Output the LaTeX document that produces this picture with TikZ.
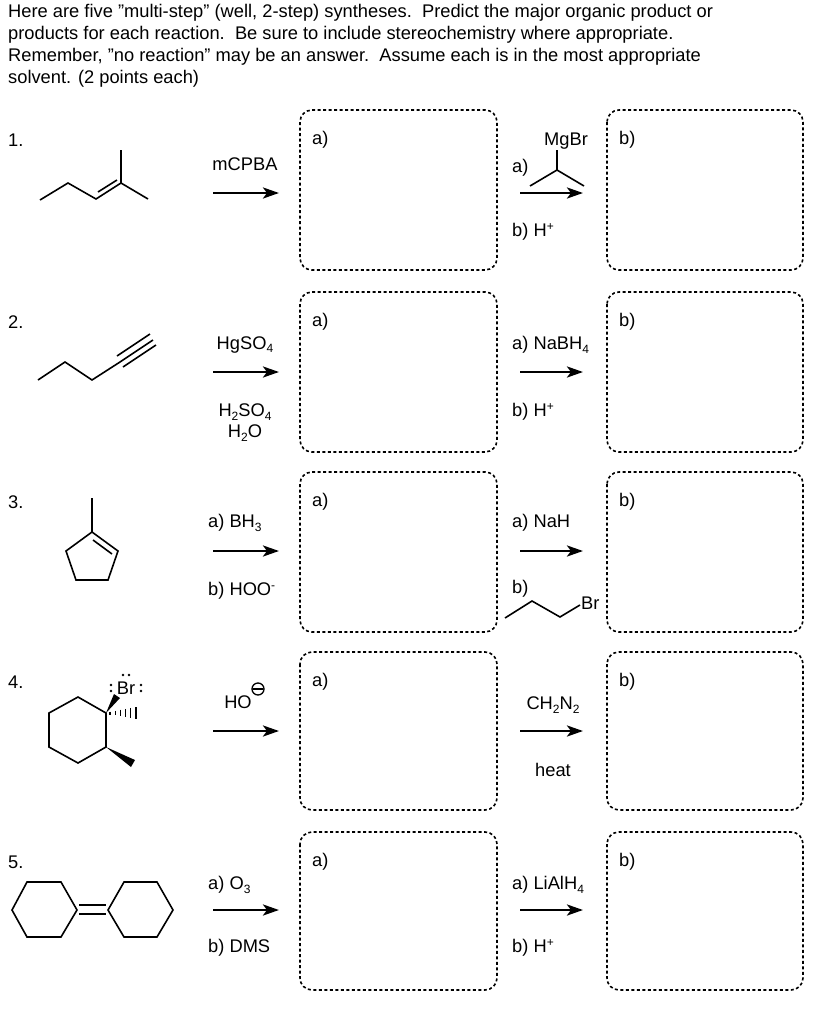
\documentclass[tikz,border=0pt]{standalone}
\usepackage{fontspec}
\setmainfont{Liberation Sans}
\usetikzlibrary{arrows.meta}
\newcommand{\lo}[1]{\raisebox{-0.35ex}{\fontsize{12}{12}\selectfont #1}}
\newcommand{\hi}[1]{\raisebox{0.6ex}{\fontsize{12}{12}\selectfont #1}}
\newcommand{\qq}{\symbol{34}}
\begin{document}
\begin{tikzpicture}[x=1pt,y=-1pt,
  txt/.style={font=\fontsize{18.3}{22}\selectfont,inner sep=0pt},
  lbl/.style={txt,anchor=west},
  bx/.style={draw,line width=1.6pt,dash pattern=on 3pt off 2.5pt,rounded corners=12pt},
  rx/.style={line width=2.8pt,-{Stealth[length=16pt,width=11pt,inset=4pt]}},
  bd/.style={line width=1.6pt,line join=miter}]
\useasboundingbox[fill=white] (0,0) rectangle (820,1020);
\node[txt,anchor=north west,align=left] (hdr) at (8,4) {Here are five \qq multi-step\qq\ (well, 2-step) syntheses.\ \ Predict the major organic product or\\products for each reaction.\ \ Be sure to include stereochemistry where appropriate.\\Remember, \qq no reaction\qq\ may be an answer.\ \ Assume each is in the most appropriate\\solvent. (2 points each)};
% boxes
\foreach \i/\t/\b in {1/110/270,2/292/452,3/472/632,4/652/810,5/832/990}{
  \draw[bx] (300,\t) rectangle (497,\b);
  \draw[bx] (607,\t) rectangle (803,\b);
  \node[lbl] (a\i) at (312,\t+30) {a)};
  \node[lbl] (b\i) at (619,\t+30) {b)};
  \node[lbl] (n\i) at (8,\t+30) {\i.};
}
% arrows
\foreach \i/\y in {1/193,2/372,3/551,4/731,5/910}{
  \coordinate (p\i) at (213,\y); \coordinate (q\i) at (279,\y);
  \coordinate (r\i) at (520,\y); \coordinate (s\i) at (583,\y);
  \draw[rx] (p\i) -- (q\i);
  \draw[rx] (r\i) -- (s\i);
}
% row 1
\draw[bd] (40,200) -- (68,183) -- (96,199) -- (121,183) -- (148,199);
\draw[bd] (121,183) -- (121,150);
\draw[bd] (98,192) -- (117,180);
\node[txt] (t1) at (245,164) {mCPBA};
\node[txt] (t2) at (566,141) {MgBr};
\node[lbl] (t3) at (512,168) {a)};
\draw[bd] (530,186) -- (557,170) -- (584,186);
\draw[bd] (557,170) -- (557,150);
\node[lbl] (t4) at (512,232) {b) H\hi{+}};
% row 2
\draw[bd] (38,380) -- (65,362) -- (92,380) -- (120,362) -- (153,340);
\draw[bd] (117,356) -- (150,334);
\draw[bd] (123,367) -- (156,345);
\node[txt] (t5) at (245,345) {HgSO\lo{4}};
\node[txt] (t6) at (245,412) {H\lo{2}SO\lo{4}};
\node[txt] (t7) at (245,433) {H\lo{2}O};
\node[lbl] (t8) at (512,345) {a) NaBH\lo{4}};
\node[lbl] (t9) at (512,412) {b) H\hi{+}};
% row 3
\draw[bd] (92,498) -- (92,532);
\draw[bd] (92,532) -- (118,551) -- (108,580) -- (76,580) -- (66,551) -- cycle;
\draw[bd] (93,540) -- (112,554);
\node[lbl] (t10) at (208,523) {a) BH\lo{3}};
\node[lbl] (t11) at (208,591) {b) HOO\hi{-}};
\node[lbl] (t12) at (512,523) {a) NaH};
\node[lbl] (t13) at (512,589) {b)};
\draw[bd] (505,618) -- (532,601) -- (560,617) -- (580,605);
\node[lbl] (t14) at (581,603) {Br};
% row 4
\draw[bd] (106,713) -- (78,697) -- (49,713) -- (49,747) -- (78,763) -- (106,747) -- cycle;
\fill (106,713) -- (114,694) -- (120,698) -- cycle;
\foreach \k in {0,...,5}{\draw[line width=1.2pt] (110+\k*5.2,{713-1.5-\k*0.9}) -- (110+\k*5.2,{713+1.5+\k*0.9});}
\fill (106,747) -- (131,767) -- (135,760) -- cycle;
\node[txt] (br) at (126,688) {Br};
\foreach \p in {(111,685),(111,691),(141,685),(141,691),(123,675),(129,675)}{\fill \p circle (1.3pt);}
\node[txt] (t15) at (238,702) {HO};
\node[draw,circle,line width=1.3pt,inner sep=0pt,minimum size=12pt] (mn) at (258,689) {};
\draw[line width=1.6pt] (253,689) -- (263,689);
\node[txt] (t16) at (553,705) {CH\lo{2}N\lo{2}};
\node[txt] (t17) at (553,770) {heat};
% row 5
\draw[bd] (77,910) -- (61,882) -- (27,882) -- (12,910) -- (27,937) -- (61,937) -- cycle;
\draw[bd] (108,910) -- (124,882) -- (157,882) -- (173,910) -- (157,937) -- (124,937) -- cycle;
\draw[bd] (79,905) -- (106,905);
\draw[bd] (79,914) -- (106,914);
\node[lbl] (t18) at (208,885) {a) O\lo{3}};
\node[lbl] (t19) at (208,948) {b) DMS};
\node[lbl] (t20) at (512,885) {a) LiAlH\lo{4}};
\node[lbl] (t21) at (512,948) {b) H\hi{+}};
\end{tikzpicture}
\end{document}
